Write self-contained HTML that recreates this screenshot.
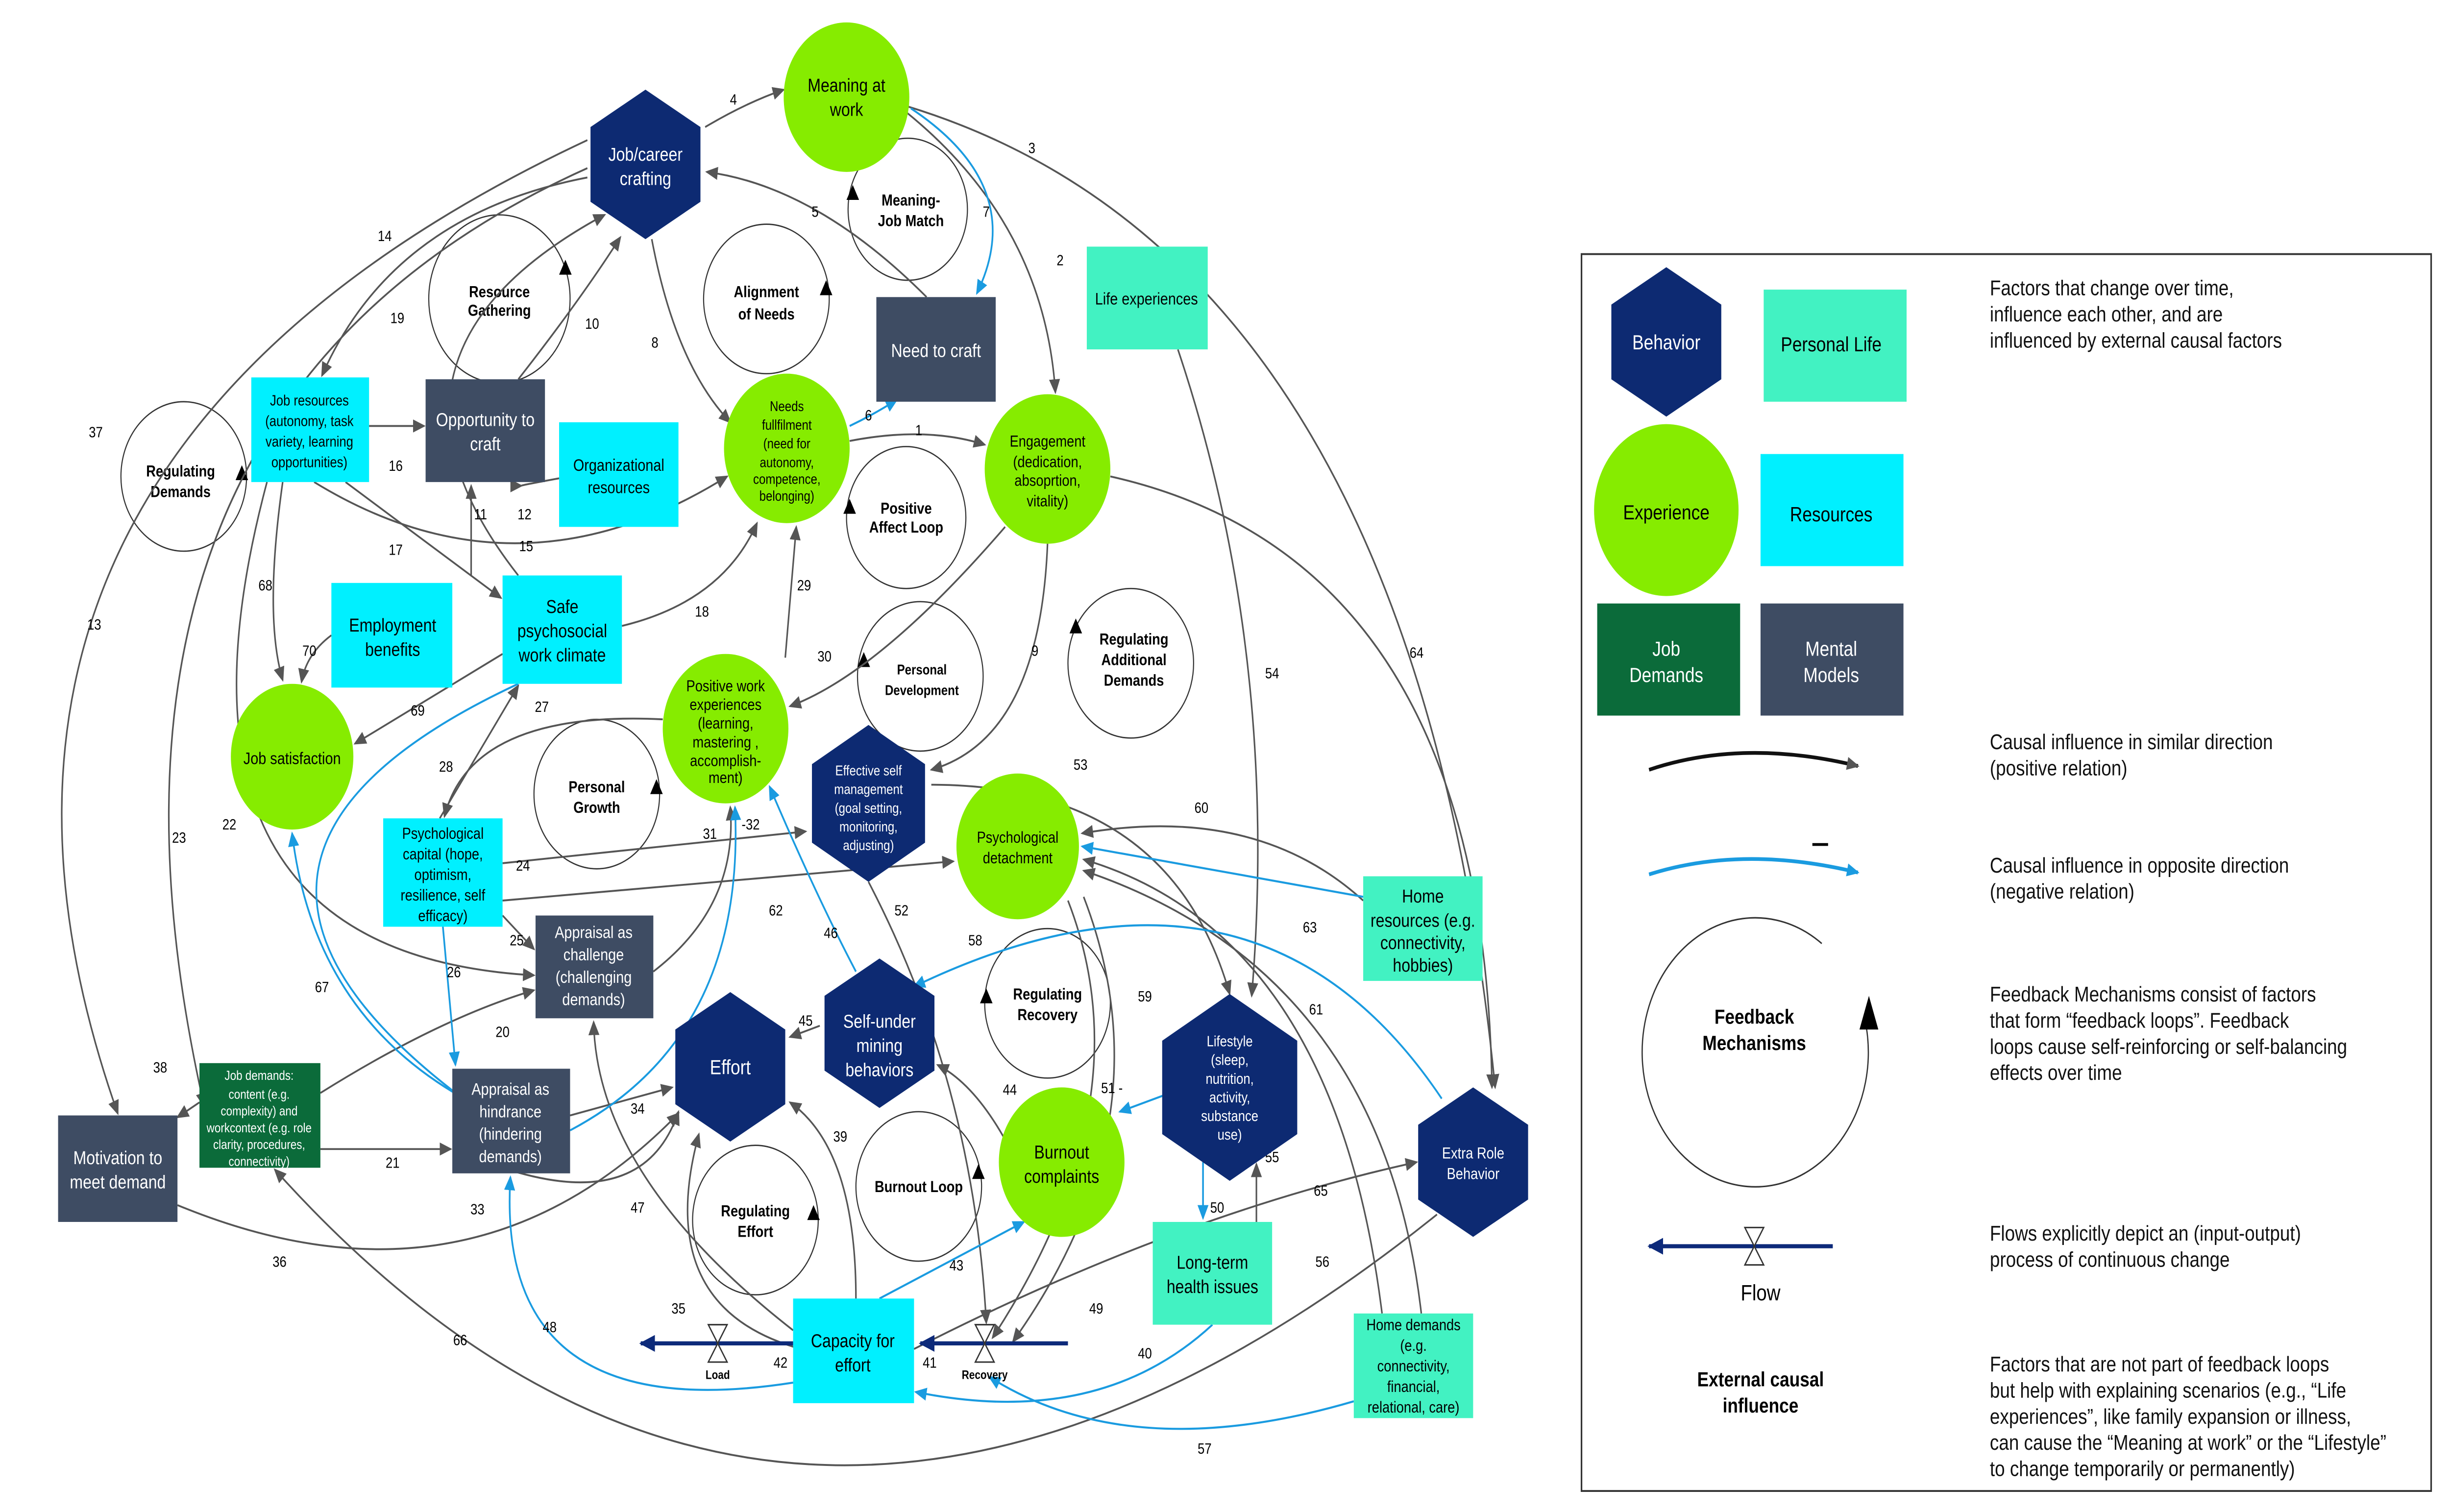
<!DOCTYPE html>
<html><head><meta charset="utf-8">
<style>
html,body{margin:0;padding:0;background:#fff;width:100%;height:100%;overflow:hidden;}
svg{display:block;width:100vw;height:100vh;}
text{font-family:"Liberation Sans",Arial,sans-serif;}
</style></head>
<body>
<svg viewBox="0 0 1560 809.25" preserveAspectRatio="none" xmlns="http://www.w3.org/2000/svg">
<defs>
<marker id="ag" markerWidth="8" markerHeight="8" refX="7" refY="4" orient="auto" markerUnits="userSpaceOnUse"><path d="M0,0.5 L8,4 L0,7.5z" fill="#555"/></marker>
<marker id="ab" markerWidth="8" markerHeight="8" refX="7" refY="4" orient="auto" markerUnits="userSpaceOnUse"><path d="M0,0.5 L8,4 L0,7.5z" fill="#1a9be0"/></marker>
<marker id="an" markerWidth="10" markerHeight="10" refX="9" refY="5" orient="auto" markerUnits="userSpaceOnUse"><path d="M0,0.5 L10,5 L0,9.5z" fill="#0d2a7a"/></marker>
</defs>
<rect width="1560" height="810" fill="#fff"/>

<g fill="none" stroke="#333" stroke-width="0.7">
<circle cx="318" cy="160" r="45"/><circle cx="488" cy="160" r="40"/><circle cx="578" cy="112" r="38"/>
<circle cx="117" cy="255" r="40"/><circle cx="577" cy="277" r="38"/><circle cx="586" cy="362" r="40"/>
<circle cx="720" cy="355" r="40"/><circle cx="380" cy="425" r="40"/><circle cx="667" cy="537" r="40"/>
<circle cx="585" cy="635" r="40"/><circle cx="481" cy="653" r="40"/>
</g>
<g fill="#000">
<path d="M356,147 l4,-8 l4,8z"/><path d="M522,158 l4,-8 l4,8z"/><path d="M539,107 l4,-8 l4,8z"/>
<path d="M150,257 l4,-8 l4,8z"/><path d="M537,275 l4,-8 l4,8z"/><path d="M546,357 l4,-8 l4,8z"/>
<path d="M681,339 l4,-8 l4,8z"/><path d="M414,425 l4,-8 l4,8z"/><path d="M624,537 l4,-8 l4,8z"/>
<path d="M619,631 l4,-8 l4,8z"/><path d="M514,653 l4,-8 l4,8z"/>
</g>
<g font-size="8.5" font-weight="bold" text-anchor="middle" fill="#000">
<text x="318" y="159">Resource</text><text x="318" y="169">Gathering</text>
<text x="488" y="159">Alignment</text><text x="488" y="171">of Needs</text>
<text x="580" y="110">Meaning-</text><text x="580" y="121">Job Match</text>
<text x="115" y="255">Regulating</text><text x="115" y="266">Demands</text>
<text x="577" y="275">Positive</text><text x="577" y="285">Affect Loop</text>
<text x="587" y="361" font-size="7.5">Personal</text><text x="587" y="372" font-size="7.5">Development</text>
<text x="722" y="345">Regulating</text><text x="722" y="356">Additional</text><text x="722" y="367">Demands</text>
<text x="380" y="424">Personal</text><text x="380" y="435">Growth</text>
<text x="667" y="535">Regulating</text><text x="667" y="546">Recovery</text>
<text x="585" y="638">Burnout Loop</text>
<text x="481" y="651">Regulating</text><text x="481" y="662">Effort</text>
</g>

<g fill="none" stroke="#555" stroke-width="1" marker-end="url(#ag)">
<path d="M541,236 Q590,228 627,238"/>
<path d="M577,60 Q665,120 672,210"/>
<path d="M578,57 Q900,140 952,582"/>
<path d="M449,68 Q475,55 499,48"/>
<path d="M590,159 Q520,100 450,92"/>
<path d="M415,128 Q430,195 465,226"/>
<path d="M667,291 Q662,395 593,412"/>
<path d="M330,203 Q370,160 395,127"/>
<path d="M300,308 L300,260"/>
<path d="M356,256 Q330,260 332,260"/>
<path d="M374,90 Q30,220 130,592"/>
<path d="M374,95 Q250,115 205,201"/>
<path d="M200,258 Q330,325 463,255"/>
<path d="M235,228 L270,228"/>
<path d="M220,258 L319,320"/>
<path d="M396,335 Q460,322 482,280"/>
<path d="M330,308 Q220,190 385,115"/>
<path d="M204,585 Q280,545 340,530"/>
<path d="M204,615 L287,615"/>
<path d="M170,258 Q90,510 340,522"/>
<path d="M320,462 L513,445"/>
<path d="M320,490 L340,508"/>
<path d="M422,385 Q300,380 283,437"/>
<path d="M280,438 L330,367"/>
<path d="M500,352 L507,282"/>
<path d="M640,282 Q560,360 503,378"/>
<path d="M416,520 Q470,485 465,432"/>
<path d="M320,625 Q410,650 432,595"/>
<path d="M363,597 L428,582"/>
<path d="M510,722 Q415,700 445,607"/>
<path d="M113,645 Q300,710 432,596"/>
<path d="M374,75 Q-70,250 75,596"/>
<path d="M127,590 L113,598"/>
<path d="M545,695 Q545,615 503,590"/>
<path d="M640,610 Q620,580 597,570"/>
<path d="M522,549 L503,555"/>
<path d="M505,712 Q380,630 378,547"/>
<path d="M680,482 Q730,590 632,716"/>
<path d="M553,472 Q620,580 628,708"/>
<path d="M593,420 Q745,420 783,532"/>
<path d="M750,187 Q815,350 797,533"/>
<path d="M800,654 L800,623"/>
<path d="M880,703 Q850,500 690,460"/>
<path d="M690,480 Q745,600 645,718"/>
<path d="M868,482 Q800,430 689,446"/>
<path d="M905,703 Q880,520 690,466"/>
<path d="M320,482 L607,461"/>
<path d="M707,255 Q945,300 950,582"/>
<path d="M582,722 Q750,650 902,622"/>
<path d="M915,650 Q500,930 175,626"/>
<path d="M180,258 Q168,330 180,364"/>
<path d="M320,350 L226,398"/>
<path d="M211,340 Q195,350 192,365"/>
</g>
<g fill="none" stroke="#1a9be0" stroke-width="1.1" marker-end="url(#ab)">
<path d="M541,228 Q556,222 571,214"/>
<path d="M580,58 Q655,100 622,157"/>
<path d="M330,366 Q90,460 298,590"/>
<path d="M282,496 L290,570"/>
<path d="M363,605 Q475,555 468,432"/>
<path d="M772,709 Q700,765 583,745"/>
<path d="M560,695 L652,654"/>
<path d="M545,520 Q520,480 490,421"/>
<path d="M505,740 Q315,765 325,630"/>
<path d="M766,622 L766,652"/>
<path d="M745,585 L713,595"/>
<path d="M862,750 Q720,785 630,737"/>
<path d="M918,588 Q800,440 582,528"/>
<path d="M868,480 L689,453"/>
<path d="M300,590 Q200,545 186,446"/>
</g>
<g stroke="#0d2a7a" stroke-width="2.2" fill="none">
<path d="M505,719 L408,719" marker-end="url(#an)"/>
<path d="M680,719 L586,719" marker-end="url(#an)"/>
<path d="M1167,667 L1050,667" marker-end="url(#an)"/>
</g>
<g fill="#fff" stroke="#333" stroke-width="0.8">
<path d="M451,709 L463,709 L451,729 L463,729z"/><path d="M621,709 L633,709 L621,729 L633,729z"/>
<path d="M1111,657 L1123,657 L1111,677 L1123,677z"/>
</g>
<g font-size="6.5" font-weight="bold" text-anchor="middle"><text x="457" y="738">Load</text><text x="627" y="738">Recovery</text></g>

<g font-size="8" fill="#000" text-anchor="middle">
<text x="585" y="233">1</text><text x="675" y="142">2</text><text x="657" y="82">3</text><text x="467" y="56">4</text>
<text x="519" y="116">5</text><text x="553" y="225">6</text><text x="628" y="116">7</text><text x="417" y="186">8</text>
<text x="659" y="351">9</text><text x="377" y="176">10</text><text x="306" y="278">11</text><text x="334" y="278">12</text>
<text x="60" y="337">13</text><text x="245" y="129">14</text><text x="335" y="295">15</text><text x="252" y="252">16</text>
<text x="252" y="297">17</text><text x="447" y="330">18</text><text x="253" y="173">19</text><text x="320" y="555">20</text>
<text x="250" y="625">21</text><text x="146" y="444">22</text><text x="114" y="451">23</text><text x="333" y="466">24</text>
<text x="329" y="506">25</text><text x="289" y="523">26</text><text x="345" y="381">27</text><text x="284" y="413">28</text>
<text x="512" y="316">29</text><text x="525" y="354">30</text><text x="452" y="449">31</text><text x="478" y="444">-32</text>
<text x="304" y="650">33</text><text x="406" y="596">34</text><text x="432" y="703">35</text><text x="178" y="678">36</text>
<text x="61" y="234">37</text><text x="102" y="574">38</text><text x="535" y="611">39</text><text x="729" y="727">40</text>
<text x="592" y="732">41</text><text x="497" y="732">42</text><text x="609" y="680">43</text><text x="643" y="586">44</text>
<text x="513" y="549">45</text><text x="529" y="502">46</text><text x="406" y="649">47</text><text x="350" y="713">48</text>
<text x="698" y="703">49</text><text x="775" y="649">50</text><text x="708" y="585">51 -</text><text x="574" y="490">52</text>
<text x="688" y="412">53</text><text x="810" y="363">54</text><text x="810" y="622">55</text><text x="842" y="678">56</text>
<text x="767" y="778">57</text><text x="621" y="506">58</text><text x="729" y="536">59</text><text x="765" y="435">60</text>
<text x="838" y="543">61</text><text x="494" y="490">62</text><text x="834" y="499">63</text><text x="902" y="352">64</text>
<text x="841" y="640">65</text><text x="293" y="720">66</text><text x="205" y="531">67</text><text x="169" y="316">68</text>
<text x="266" y="383">69</text><text x="197" y="351">70</text>
</g>

<g fill="#86ec00">
<circle cx="539" cy="52" r="40"/><circle cx="501" cy="240" r="40"/><circle cx="667" cy="251" r="40"/>
<circle cx="462" cy="390" r="40"/><circle cx="186" cy="405" r="39"/><circle cx="648" cy="453" r="39"/>
<circle cx="676" cy="622" r="40"/><circle cx="1061" cy="273" r="46"/>
</g>
<g fill="#3e4c63">
<rect x="558" y="159" width="76" height="56"/><rect x="271" y="203" width="76" height="55"/>
<rect x="341" y="490" width="75" height="55"/><rect x="288" y="572" width="75" height="56"/>
<rect x="37" y="597" width="76" height="57"/><rect x="1121" y="323" width="91" height="60"/>
</g>
<g fill="#00f0ff">
<rect x="160" y="202" width="75" height="56"/><rect x="356" y="226" width="76" height="56"/>
<rect x="211" y="312" width="77" height="56"/><rect x="320" y="308" width="76" height="58"/>
<rect x="244" y="438" width="76" height="58"/><rect x="505" y="695" width="77" height="56"/>
<rect x="1121" y="243" width="91" height="60"/>
</g>
<g fill="#42f2c2">
<rect x="692" y="132" width="77" height="55"/><rect x="868" y="469" width="76" height="56"/>
<rect x="734" y="654" width="76" height="55"/><rect x="862" y="703" width="76" height="56"/>
<rect x="1123" y="155" width="91" height="60"/>
</g>
<g fill="#0b6b3a"><rect x="127" y="569" width="77" height="56"/><rect x="1017" y="323" width="91" height="60"/></g>
<g fill="#0d2a72">
<polygon points="411,48 446,68 446,108 411,128 376,108 376,68"/>
<polygon points="553,388 589,409 589,451 553,472 517,451 517,409"/>
<polygon points="560,513 595,533 595,573 560,593 525,573 525,533"/>
<polygon points="465,531 500,551 500,591 465,611 430,591 430,551"/>
<polygon points="783,532 826,557 826,607 783,632 740,607 740,557"/>
<polygon points="938,582 973,602 973,642 938,662 903,642 903,602"/>
<polygon points="1061,143 1096,163 1096,203 1061,223 1026,203 1026,163"/>
</g>

<g text-anchor="middle" font-size="10" fill="#000">
<text x="539" y="49">Meaning at</text><text x="539" y="62">work</text>
<text x="501" y="220" font-size="7.5">Needs</text><text x="501" y="230" font-size="7.5">fullfilment</text><text x="501" y="240" font-size="7.5">(need for</text><text x="501" y="250" font-size="7.5">autonomy,</text><text x="501" y="259" font-size="7.5">competence,</text><text x="501" y="268" font-size="7.5">belonging)</text>
<text x="667" y="239" font-size="8.5">Engagement</text><text x="667" y="250" font-size="8.5">(dedication,</text><text x="667" y="260" font-size="8.5">absoprtion,</text><text x="667" y="271" font-size="8.5">vitality)</text>
<text x="462" y="370" font-size="8.5">Positive work</text><text x="462" y="380" font-size="8.5">experiences</text><text x="462" y="390" font-size="8.5">(learning,</text><text x="462" y="400" font-size="8.5">mastering ,</text><text x="462" y="410" font-size="8.5">accomplish-</text><text x="462" y="419" font-size="8.5">ment)</text>
<text x="186" y="409" font-size="9">Job satisfaction</text>
<text x="648" y="451" font-size="8.5">Psychological</text><text x="648" y="462" font-size="8.5">detachment</text>
<text x="676" y="620">Burnout</text><text x="676" y="633">complaints</text>
<text x="1061" y="278" font-size="11">Experience</text>
<text x="1166" y="188" font-size="11">Personal Life</text>
<text x="1166" y="279" font-size="11">Resources</text>
<text x="730" y="163" font-size="9">Life experiences</text>
<text x="906" y="483">Home</text><text x="906" y="496">resources (e.g.</text><text x="906" y="508">connectivity,</text><text x="906" y="520">hobbies)</text>
<text x="772" y="679">Long-term</text><text x="772" y="692">health issues</text>
<text x="900" y="712" font-size="8.5">Home demands</text><text x="900" y="723" font-size="8.5">(e.g.</text><text x="900" y="734" font-size="8.5">connectivity,</text><text x="900" y="745" font-size="8.5">financial,</text><text x="900" y="756" font-size="8.5">relational, care)</text>
<text x="197" y="217" font-size="8">Job resources</text><text x="197" y="228" font-size="8">(autonomy, task</text><text x="197" y="239" font-size="8">variety, learning</text><text x="197" y="250" font-size="8">opportunities)</text>
<text x="394" y="252" font-size="9">Organizational</text><text x="394" y="264" font-size="9">resources</text>
<text x="250" y="338">Employment</text><text x="250" y="351">benefits</text>
<text x="358" y="328">Safe</text><text x="358" y="341">psychosocial</text><text x="358" y="354">work climate</text>
<text x="282" y="449" font-size="8.5">Psychological</text><text x="282" y="460" font-size="8.5">capital (hope,</text><text x="282" y="471" font-size="8.5">optimism,</text><text x="282" y="482" font-size="8.5">resilience, self</text><text x="282" y="493" font-size="8.5">efficacy)</text>
<text x="543" y="721">Capacity for</text><text x="543" y="734">effort</text>
</g>
<g text-anchor="middle" font-size="10" fill="#fff">
<text x="411" y="86">Job/career</text><text x="411" y="99">crafting</text>
<text x="596" y="191">Need to craft</text>
<text x="309" y="228">Opportunity to</text><text x="309" y="241">craft</text>
<text x="378" y="502" font-size="9">Appraisal as</text><text x="378" y="514" font-size="9">challenge</text><text x="378" y="526" font-size="9">(challenging</text><text x="378" y="538" font-size="9">demands)</text>
<text x="325" y="586" font-size="9">Appraisal as</text><text x="325" y="598" font-size="9">hindrance</text><text x="325" y="610" font-size="9">(hindering</text><text x="325" y="622" font-size="9">demands)</text>
<text x="75" y="623">Motivation to</text><text x="75" y="636">meet demand</text>
<text x="165" y="578" font-size="7">Job demands:</text><text x="165" y="588" font-size="7">content (e.g.</text><text x="165" y="597" font-size="7">complexity) and</text><text x="165" y="606" font-size="7">workcontext (e.g. role</text><text x="165" y="615" font-size="7">clarity, procedures,</text><text x="165" y="624" font-size="7">connectivity)</text>
<text x="553" y="415" font-size="7.5">Effective self</text><text x="553" y="425" font-size="7.5">management</text><text x="553" y="435" font-size="7.5">(goal setting,</text><text x="553" y="445" font-size="7.5">monitoring,</text><text x="553" y="455" font-size="7.5">adjusting)</text>
<text x="560" y="550">Self-under</text><text x="560" y="563">mining</text><text x="560" y="576">behaviors</text>
<text x="465" y="575" font-size="11">Effort</text>
<text x="783" y="560" font-size="8">Lifestyle</text><text x="783" y="570" font-size="8">(sleep,</text><text x="783" y="580" font-size="8">nutrition,</text><text x="783" y="590" font-size="8">activity,</text><text x="783" y="600" font-size="8">substance</text><text x="783" y="610" font-size="8">use)</text>
<text x="938" y="620" font-size="8.5">Extra Role</text><text x="938" y="631" font-size="8.5">Behavior</text>
<text x="1061" y="187" font-size="11">Behavior</text>
<text x="1061" y="351" font-size="11">Job</text><text x="1061" y="365" font-size="11">Demands</text>
<text x="1166" y="351" font-size="11">Mental</text><text x="1166" y="365" font-size="11">Models</text>
</g>

<rect x="1007" y="136" width="541" height="662" fill="none" stroke="#333" stroke-width="1"/>
<path d="M1050,412 Q1110,395 1183,410" fill="none" stroke="#111" stroke-width="2" marker-end="url(#ag)"/>
<path d="M1050,468 Q1110,452 1183,467" fill="none" stroke="#1a9be0" stroke-width="2" marker-end="url(#ab)"/>
<line x1="1154" y1="452" x2="1164" y2="452" stroke="#000" stroke-width="1.5"/>
<path d="M1188,548 A72,72 0 1 1 1160,505" fill="none" stroke="#333" stroke-width="0.8"/>
<path d="M1184,551 l6,-18 l6,18z" fill="#000"/>
<g font-size="11" font-weight="bold" text-anchor="middle">
<text x="1117" y="548">Feedback</text><text x="1117" y="562">Mechanisms</text>
<text x="1121" y="696" font-size="12" font-weight="normal">Flow</text>
<text x="1121" y="742">External causal</text><text x="1121" y="756">influence</text>
</g>
<g font-size="11.5" fill="#111">
<text x="1267" y="158">Factors that change over time,</text><text x="1267" y="172">influence each other, and are</text><text x="1267" y="186">influenced by external causal factors</text>
<text x="1267" y="401">Causal influence in similar direction</text><text x="1267" y="415">(positive relation)</text>
<text x="1267" y="467">Causal influence in opposite direction</text><text x="1267" y="481">(negative relation)</text>
<text x="1267" y="536">Feedback Mechanisms consist of factors</text><text x="1267" y="550">that form “feedback loops”. Feedback</text><text x="1267" y="564">loops cause self-reinforcing or self-balancing</text><text x="1267" y="578">effects over time</text>
<text x="1267" y="664">Flows explicitly depict an (input-output)</text><text x="1267" y="678">process of continuous change</text>
<text x="1267" y="734">Factors that are not part of feedback loops</text><text x="1267" y="748">but help with explaining scenarios (e.g., “Life</text><text x="1267" y="762">experiences”, like family expansion or illness,</text><text x="1267" y="776">can cause the “Meaning at work” or the “Lifestyle”</text><text x="1267" y="790">to change temporarily or permanently)</text>
</g>
</svg>
</body></html>
